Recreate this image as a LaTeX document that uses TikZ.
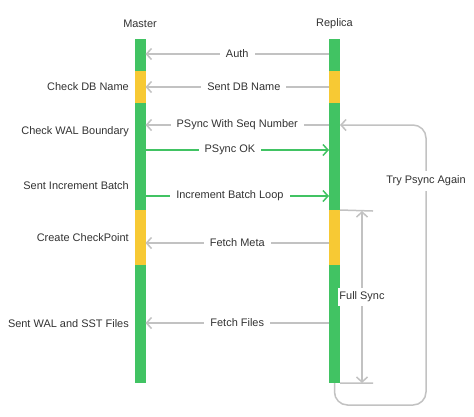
\documentclass[tikz,border=0pt]{standalone}
\usepackage{fontspec}
\setmainfont{Liberation Sans}
\usetikzlibrary{arrows.meta}
\definecolor{barg}{HTML}{41C363}
\definecolor{bary}{HTML}{F7C934}
\definecolor{lgray}{HTML}{C2C2C2}
\definecolor{txt}{HTML}{333333}
\begin{document}
\begin{tikzpicture}[x=1bp,y=-1bp, font=\fontsize{11}{13}\selectfont,
  seg/.style={minimum width=11bp, inner sep=0, outer sep=0, draw=none},
  gseg/.style={seg, fill=barg},
  yseg/.style={seg, fill=bary},
  tip/.style={-{Straight Barb[length=5bp,width=11bp,line width=1.5bp]}},
  msg/.style={line width=1.5bp, draw=lgray, tip},
  okmsg/.style={msg, draw=barg},
  lab/.style={fill=white, text=txt, inner xsep=6bp, inner ysep=1bp},
  act/.style={anchor=east, inner sep=0, text=txt},
  head/.style={text=txt, inner sep=0},
]
\useasboundingbox[fill=white] (0,0) rectangle (474,416);

\node[head] (master) at (140,24) {Master};
\node[head] (replica) at (334.5,24) {Replica};

% master bar
\node[gseg, minimum height=32bp]  (m1) at (140,55) {};
\node[yseg, minimum height=32bp]  (m2) at (140,87) {};
\node[gseg, minimum height=107bp] (m3) at (140,156.5) {};
\node[yseg, minimum height=55bp]  (m4) at (140,237.5) {};
\node[gseg, minimum height=118bp] (m5) at (140,324) {};
% replica bar
\node[gseg, minimum height=32bp]  (r1) at (334.5,55) {};
\node[yseg, minimum height=32bp]  (r2) at (334.5,87) {};
\node[gseg, minimum height=107bp] (r3) at (334.5,156.5) {};
\node[yseg, minimum height=55bp]  (r4) at (334.5,237.5) {};
\node[gseg, minimum height=118bp] (r5) at (334.5,324) {};

% actions at master
\node[act] (a1) at (129,87) {Check DB Name};
\node[act] (a2) at (129,132) {Check WAL Boundary};
\node[act] (a3) at (129,186) {Sent Increment Batch};
\node[act] (a4) at (129,238) {Create CheckPoint};
\node[act] (a5) at (129,324) {Sent WAL and SST Files};

% messages
\draw[msg] (r1.west |- 0,54) -- node[lab]{Auth} (m1.east |- 0,54);
\draw[msg] (r2.west |- 0,87) -- node[lab, pos=0.464]{Sent DB Name} (m2.east |- 0,87);
\draw[msg] (r3.west |- 0,125) -- node[lab]{PSync With Seq Number} (m3.east |- 0,125);
\draw[okmsg] (m3.east |- 0,150) -- node[lab, pos=0.46]{PSync OK} (r3.west |- 0,150);
\draw[okmsg] (m3.east |- 0,196) -- node[lab, pos=0.46]{Increment Batch Loop} (r3.west |- 0,196);
\draw[msg] (r4.west |- 0,243) -- node[lab]{Fetch Meta} (m4.east |- 0,243);
\draw[msg] (r5.west |- 0,323) -- node[lab]{Fetch Files} (m5.east |- 0,323);

% full sync
\coordinate (fsTop) at (362,211);
\coordinate (fsBot) at (362,383);
\draw[lgray, line width=1.5bp] (r4.north east) -- (373,211);
\draw[lgray, line width=1.5bp] (r5.south east) -- (373,383);
\draw[lgray, line width=1.5bp, {Straight Barb[length=5bp,width=11bp,line width=1.5bp]}-{Straight Barb[length=5bp,width=11bp,line width=1.5bp]}]
  (fsTop) -- node[lab, inner xsep=1bp, inner ysep=4bp]{Full Sync} (fsBot);

% try psync again loop
\coordinate (lp) at (426,181);
\draw[msg, rounded corners=13bp] (r5.south) -- (334.5,405) -- (426,405) -- (426,125) -- (r3.east |- 0,125);
\node[lab, inner xsep=2bp, inner ysep=5bp] (try) at (lp) {Try Psync Again};
\end{tikzpicture}
\end{document}
